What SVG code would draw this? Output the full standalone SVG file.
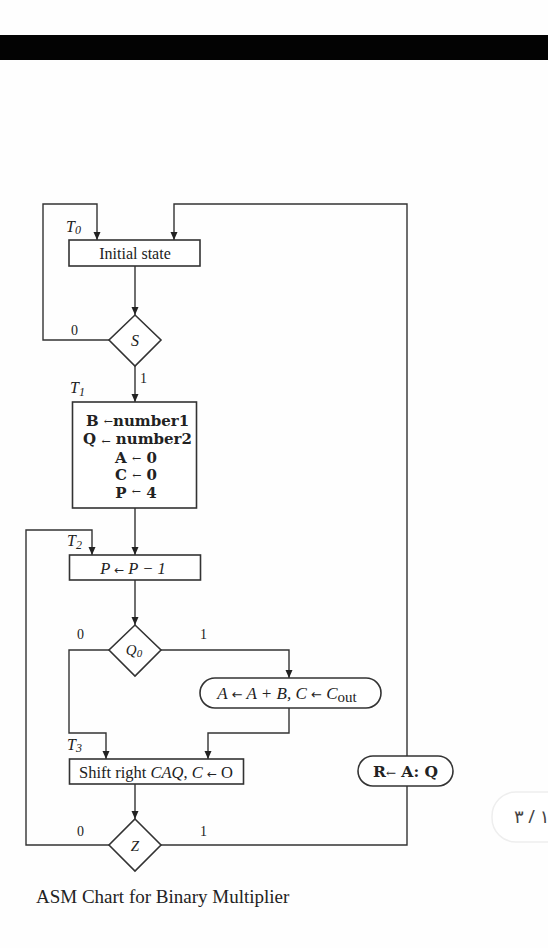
<svg xmlns="http://www.w3.org/2000/svg" width="548" height="948" viewBox="0 0 548 948">
<style>
.ln{fill:none;stroke:#333;stroke-width:1.4}
.bx{fill:#fff;stroke:#333;stroke-width:1.6}
.t{font-family:"Liberation Serif",serif;fill:#222}
.d{font-family:"DejaVu Serif",serif;font-weight:bold;fill:#222}
.i{font-style:italic}
.ar{font-family:"DejaVu Sans",sans-serif;font-style:normal;font-weight:normal}
</style>
<defs>
<marker id="ah" viewBox="0 0 8 8" refX="8" refY="4" markerWidth="8" markerHeight="8" markerUnits="userSpaceOnUse" orient="auto">
<path d="M0,0.5 L8,4 L0,7.5 Z" fill="#222"/>
</marker>
</defs>
<rect x="0" y="0" width="548" height="948" fill="#fefefe"/>
<rect x="0" y="35" width="548" height="25" fill="#030303"/>

<g id="connectors">
<path class="ln" d="M135,340 H43 V204 H97 V240" marker-end="url(#ah)"/>
<path class="ln" d="M135,845 H407 V204 H174 V240" marker-end="url(#ah)"/>
<path class="ln" d="M135,266 V315" marker-end="url(#ah)"/>
<path class="ln" d="M135,366 V402" marker-end="url(#ah)"/>
<path class="ln" d="M135,508 V555" marker-end="url(#ah)"/>
<path class="ln" d="M135,845 H26 V530 H92 V555" marker-end="url(#ah)"/>
<path class="ln" d="M135,580 V625" marker-end="url(#ah)"/>
<path class="ln" d="M160,650 H289 V678" marker-end="url(#ah)"/>
<path class="ln" d="M110,650 H69 V733 H106 V759" marker-end="url(#ah)"/>
<path class="ln" d="M289,708 V733 H208 V759" marker-end="url(#ah)"/>
<path class="ln" d="M135,784 V819" marker-end="url(#ah)"/>
</g>

<g id="initial">
<rect class="bx" x="69" y="240" width="131" height="26"/>
<text class="t" x="135" y="258.5" font-size="16" text-anchor="middle">Initial state</text>
<text class="t i" x="66" y="232" font-size="16">T<tspan font-size="12" dy="2">0</tspan></text>
</g>

<g id="S">
<polygon class="bx" points="135,315 161,340 135,366 109,340"/>
<text class="t i" x="135" y="345.5" font-size="16" text-anchor="middle">S</text>
<text class="t" x="71" y="335" font-size="14">0</text>
<text class="t" x="140" y="383" font-size="14">1</text>
</g>

<g id="T1">
<rect class="bx" x="72.5" y="402" width="124" height="106"/>
<text class="t i" x="70" y="393" font-size="16">T<tspan font-size="12" dy="3">1</tspan></text>
<g class="d" font-size="15">
<text x="137.5" y="426" text-anchor="middle">B <tspan font-size="11" font-weight="normal" dy="-1">←</tspan><tspan dy="1">number1</tspan></text>
<text x="137.5" y="444" text-anchor="middle">Q <tspan font-size="11" font-weight="normal" dy="1">←</tspan> <tspan dy="-1">number2</tspan></text>
<text x="136" y="463" text-anchor="middle">A <tspan font-size="11" font-weight="normal" dy="-1">←</tspan><tspan dy="1"> 0</tspan></text>
<text x="136" y="480" text-anchor="middle">C <tspan font-size="11" font-weight="normal" dy="-1">←</tspan><tspan dy="1"> 0</tspan></text>
<text x="136" y="498" text-anchor="middle">P <tspan font-size="11" font-weight="normal" dy="-3">←</tspan><tspan dy="3"> 4</tspan></text>
</g>
</g>

<g id="T2">
<rect class="bx" x="69.5" y="555" width="131" height="25"/>
<text class="t i" x="133" y="573.5" font-size="16.5" text-anchor="middle">P <tspan class="ar" font-size="12">←</tspan> P − 1</text>
<text class="t i" x="67" y="546" font-size="16">T<tspan font-size="12" dy="3">2</tspan></text>
</g>

<g id="Q0">
<polygon class="bx" points="135,625 161,650 135,676 109,650"/>
<text class="t i" x="134" y="655" font-size="15" text-anchor="middle">Q<tspan font-size="11" dy="2">0</tspan></text>
<text class="t" x="77" y="639" font-size="14">0</text>
<text class="t" x="200" y="639" font-size="14">1</text>
</g>

<g id="add">
<rect class="bx" x="200" y="678" width="181" height="30" rx="15" ry="15"/>
<text class="t i" x="287" y="698.5" font-size="17" text-anchor="middle">A <tspan class="ar" font-size="13">←</tspan> A + B, C <tspan class="ar" font-size="13">←</tspan> C<tspan font-style="normal" font-size="15" dy="3">out</tspan></text>
</g>

<g id="T3">
<rect class="bx" x="69.5" y="759" width="174" height="25"/>
<text class="t" x="156" y="777.5" font-size="16.5" text-anchor="middle">Shift right <tspan font-style="italic">CAQ</tspan>, <tspan font-style="italic">C</tspan> <tspan class="ar" font-size="12">←</tspan> O</text>
<text class="t i" x="67" y="750" font-size="16">T<tspan font-size="12" dy="2">3</tspan></text>
</g>

<g id="Z">
<polygon class="bx" points="135,819 161,845 135,871 109,845"/>
<text class="t i" x="135" y="850.5" font-size="15" text-anchor="middle">Z</text>
<text class="t" x="77" y="836" font-size="14">0</text>
<text class="t" x="200" y="836" font-size="14">1</text>
</g>

<g id="R">
<rect class="bx" x="358" y="756" width="95" height="30" rx="15" ry="15"/>
<text class="d" x="405.5" y="776.5" font-size="15.5" text-anchor="middle">R<tspan font-size="12" font-weight="normal">←</tspan> A: Q</text>
</g>

<text class="t" x="36" y="903" font-size="19">ASM Chart for Binary Multiplier</text>

<g id="pager">
<rect x="492" y="792" width="80" height="50" rx="24" ry="24" fill="#fff" stroke="#eee" stroke-width="1.5"/>
<text x="514" y="823" font-family="Noto Sans, DejaVu Sans, sans-serif" font-size="18" fill="#444" direction="ltr" unicode-bidi="bidi-override">٣ / ١</text>
</g>
</svg>
